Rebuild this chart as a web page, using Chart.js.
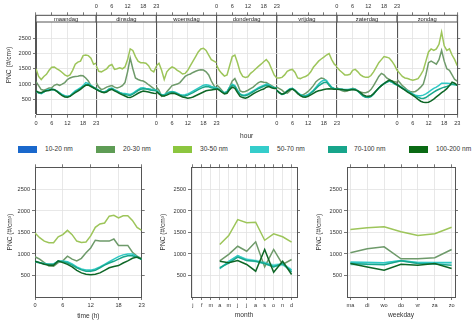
<!DOCTYPE html>
<html>
<head>
<meta charset="utf-8">
<script src="https://cdn.jsdelivr.net/npm/chart.js@4.4.1/dist/chart.umd.min.js"></script>
<style>
  html, body { margin: 0; padding: 0; background: #fff; }
  body { width: 474px; height: 323px; position: relative; overflow: hidden;
         font-family: "Liberation Sans", Arial, sans-serif; }
  .panel { position: absolute; }
  .legend-item { position: absolute; top: 145px; height: 8px; font-size: 6.6px; color: #333; line-height: 8px; white-space: nowrap; }
  .swatch { position: absolute; top: 146px; width: 19px; height: 7px; }
</style>
</head>
<body>
<div class="panel" style="left:0;top:0;width:474px;height:140px"><canvas id="weekChart"></canvas></div>

<div id="legend"></div>

<div class="panel" style="left:0;top:150px;width:155px;height:173px"><canvas id="hourChart"></canvas></div>
<div class="panel" style="left:155px;top:150px;width:155px;height:173px"><canvas id="monthChart"></canvas></div>
<div class="panel" style="left:310px;top:150px;width:164px;height:173px"><canvas id="weekdayChart"></canvas></div>

<script>
// ---- categories and tick labels ----
const days = ['maandag', 'dinsdag', 'woensdag', 'donderdag', 'vrijdag', 'zaterdag', 'zondag'];
const sizeBins = ['10-20 nm', '20-30 nm', '30-50 nm', '50-70 nm', '70-100 nm', '100-200 nm'];
const hourTicks = [0, 6, 12, 18, 23];
const yTicks = [500, 1000, 1500, 2000, 2500];
const monthLabels = ['j', 'f', 'm', 'a', 'm', 'j', 'j', 'a', 's', 'o', 'n', 'd'];
const weekdayLabels = ['ma', 'di', 'wo', 'do', 'vr', 'za', 'zo'];

// ---- hour-of-week means, 24 values per day (maandag .. zondag) ----
const pnc20_30Week = [
  1080, 950, 820, 800, 830, 870, 880, 960, 990, 960, 1000, 1050, 1150, 1200, 1230, 1250, 1260, 1280, 1270, 1200, 1100, 950, 880, 860,
  1050, 900, 820, 850, 900, 930, 950, 900, 870, 900, 950, 1050, 1400, 1850, 1500, 1200, 1150, 1120, 1100, 1050, 980, 920, 850, 780,
  900, 800, 600, 620, 750, 850, 950, 980, 1000, 1050, 1150, 1250, 1300, 1330, 1380, 1420, 1450, 1470, 1460, 1400, 1300, 1100, 950, 850,
  980, 900, 800, 700, 720, 900, 1100, 1180, 1000, 780, 740, 760, 800, 850, 900, 980, 1050, 1080, 1060, 1050, 1000, 950, 900, 870,
  900, 850, 800, 720, 700, 780, 860, 800, 680, 640, 650, 700, 760, 850, 950, 1080, 1150, 1200, 1180, 1100, 950, 880, 850, 850,
  880, 830, 780, 760, 770, 820, 860, 840, 780, 740, 720, 720, 750, 820, 950, 1100, 1250, 1350, 1300, 1200, 1150, 1100, 1080, 1060,
  1150, 1050, 950, 880, 800, 760, 740, 760, 820, 900, 1000, 1300, 1700, 1750, 1700, 1650, 1800, 2100, 1750, 1500, 1450, 1300, 1150, 1100
];
const pnc30_50Week = [
  1500, 1250, 1150, 1250, 1320, 1450, 1550, 1560, 1500, 1450, 1380, 1300, 1260, 1300, 1450, 1650, 1720, 1750, 1930, 1950, 1930, 1850, 1650, 1680,
  1600, 1420, 1400, 1450, 1500, 1600, 1640, 1480, 1500, 1530, 1500, 1560, 1800, 2150, 2100, 1900, 1750, 1700, 1700, 1680, 1600, 1450, 1400, 1580,
  1600, 1680, 1450, 1150, 1400, 1500, 1560, 1520, 1450, 1400, 1330, 1350, 1450, 1600, 1750, 1900, 2050, 2150, 2170, 2100, 1950, 1800, 1750, 1700,
  1620, 1450, 1350, 1260, 1300, 1600, 1900, 1950, 1700, 1400, 1250, 1220, 1240, 1350, 1420, 1500, 1580, 1650, 1730, 1800, 1700, 1500, 1300, 1200,
  1200, 1200, 1220, 1300, 1420, 1460, 1480, 1380, 1200, 1180, 1220, 1250, 1300, 1400, 1550, 1650, 1750, 1820, 1880, 1950, 2000, 1800, 1650, 1580,
  1550, 1450, 1380, 1300, 1300, 1320, 1450, 1480, 1400, 1300, 1250, 1220, 1220, 1280, 1400, 1550, 1700, 1800, 1900, 1880, 1850, 1750, 1620, 1450,
  1450, 1350, 1250, 1200, 1180, 1150, 1130, 1150, 1180, 1300, 1450, 1750, 2050, 2150, 2100, 2150, 2300, 2700, 2250, 2100, 2150, 1950, 1800, 1600
];
const pnc50_70Week = [
  780, 720, 690, 740, 800, 820, 830, 820, 780, 720, 660, 620, 600, 620, 700, 780, 830, 880, 950, 1050, 1020, 960, 900, 850,
  850, 800, 760, 740, 780, 850, 870, 820, 780, 730, 700, 690, 680, 660, 700, 760, 820, 870, 880, 860, 850, 830, 820, 800,
  800, 720, 650, 650, 700, 740, 760, 740, 700, 660, 640, 650, 680, 720, 770, 820, 870, 920, 960, 980, 960, 920, 900, 880,
  880, 830, 760, 720, 760, 900, 1000, 950, 800, 680, 640, 650, 680, 730, 780, 830, 880, 920, 960, 1000, 980, 920, 880, 880,
  800, 720, 660, 700, 780, 850, 860, 800, 720, 660, 620, 620, 660, 720, 800, 900, 1000, 1080, 1130, 1120, 1000, 900, 860, 850,
  850, 840, 830, 820, 820, 830, 840, 830, 780, 700, 620, 580, 570, 600, 680, 780, 880, 960, 1020, 1070, 1100, 1060, 1000, 960,
  1000, 940, 880, 830, 780, 730, 680, 640, 620, 620, 640, 680, 740, 800, 860, 900, 960, 1030, 1030, 1030, 1020, 1000, 980, 970
];
const pnc70_100Week = [
  760, 710, 700, 750, 790, 800, 820, 810, 760, 700, 640, 600, 590, 610, 680, 750, 800, 850, 920, 980, 990, 940, 880, 840,
  830, 790, 760, 740, 770, 830, 850, 800, 760, 710, 680, 660, 640, 630, 670, 730, 790, 830, 850, 840, 820, 800, 790, 780,
  780, 700, 640, 630, 680, 720, 740, 720, 680, 640, 610, 610, 640, 680, 720, 770, 820, 860, 900, 920, 910, 880, 860, 850,
  860, 820, 750, 700, 740, 870, 960, 920, 780, 660, 620, 620, 650, 700, 750, 800, 850, 890, 930, 960, 950, 900, 870, 870,
  790, 710, 660, 690, 770, 830, 840, 790, 710, 640, 600, 600, 630, 700, 770, 860, 940, 1000, 1050, 1060, 980, 880, 850, 840,
  840, 830, 820, 810, 810, 820, 830, 820, 770, 690, 610, 570, 560, 590, 670, 770, 870, 950, 1010, 1060, 1100, 1080, 1020, 980,
  980, 920, 860, 810, 760, 710, 660, 610, 570, 540, 530, 560, 620, 680, 740, 790, 830, 870, 900, 920, 960, 990, 990, 980
];
const pnc100_200Week = [
  780, 730, 720, 760, 780, 790, 830, 820, 760, 690, 620, 580, 570, 600, 660, 720, 770, 830, 900, 960, 970, 920, 880, 830,
  830, 780, 740, 720, 740, 800, 830, 780, 740, 690, 650, 610, 570, 560, 600, 650, 700, 740, 770, 760, 740, 720, 700, 690,
  760, 680, 620, 610, 640, 680, 700, 690, 660, 620, 580, 560, 540, 550, 580, 620, 660, 700, 740, 780, 800, 810, 820, 830,
  850, 800, 740, 680, 700, 820, 900, 860, 720, 600, 560, 540, 570, 620, 680, 730, 770, 810, 840, 900, 920, 880, 860, 860,
  800, 720, 670, 700, 760, 820, 840, 780, 700, 620, 580, 570, 600, 650, 700, 750, 780, 800, 820, 840, 850, 840, 830, 830,
  830, 820, 820, 810, 800, 810, 820, 810, 780, 720, 650, 610, 600, 620, 690, 780, 870, 950, 1020, 1080, 1130, 1100, 1030, 980,
  980, 920, 860, 800, 740, 690, 630, 570, 500, 440, 410, 400, 410, 450, 510, 580, 650, 720, 780, 850, 950, 1060, 1030, 960
];

// ---- hour-of-day means ----
const pnc20_30Hour = [935, 880, 800, 720, 716, 800, 840, 950, 880, 840, 900, 1030, 1140, 1320, 1300, 1300, 1300, 1350, 1200, 1200, 1200, 1040, 950, 890];
const pnc30_50Hour = [1490, 1380, 1300, 1260, 1260, 1400, 1450, 1550, 1450, 1300, 1270, 1280, 1420, 1620, 1700, 1720, 1880, 1900, 1840, 1890, 1890, 1780, 1620, 1550];
const pnc50_70Hour = [830, 800, 780, 760, 770, 840, 840, 820, 770, 700, 650, 630, 625, 650, 700, 760, 820, 880, 940, 980, 1000, 1000, 940, 880];
const pnc70_100Hour = [820, 790, 770, 760, 760, 830, 820, 790, 740, 680, 630, 600, 600, 620, 680, 740, 790, 830, 880, 930, 960, 960, 920, 870];
const pnc100_200Hour = [830, 800, 760, 740, 740, 840, 800, 760, 700, 620, 560, 530, 520, 530, 560, 620, 680, 710, 730, 790, 840, 900, 930, 880];

// ---- monthly means (no data january - march) ----
const pnc20_30Month = [null, null, null, 840, 990, 1180, 1065, 1283, 700, 1105, 756, 872];
const pnc30_50Month = [null, null, null, 1220, 1430, 1800, 1725, 1740, 1320, 1470, 1400, 1275];
const pnc50_70Month = [null, null, null, 656, 830, 965, 870, 840, 790, 730, 760, 623];
const pnc50_70MonthLow = [null, null, null, 640, 800, 920, 830, 800, 750, 690, 720, 590];
const pnc50_70MonthHigh = [null, null, null, 680, 850, 975, 900, 870, 830, 770, 800, 660];
const pnc70_100Month = [null, null, null, 680, 790, 930, 850, 830, 780, 700, 780, 580];
const pnc100_200Month = [null, null, null, 833, 795, 849, 756, 600, 1105, 577, 833, 523];

// ---- weekday means ----
const pnc20_30Weekday = [1028, 1121, 1167, 888, 888, 912, 1105];
const pnc30_50Weekday = [1570, 1609, 1632, 1516, 1430, 1470, 1623];
const pnc50_70Weekday = [810, 800, 795, 850, 800, 800, 800];
const pnc50_70WeekdayLow = [730, 740, 750, 820, 770, 770, 765];
const pnc50_70WeekdayHigh = [835, 825, 815, 860, 820, 815, 815];
const pnc70_100Weekday = [780, 760, 750, 840, 780, 770, 740];
const pnc100_200Weekday = [780, 700, 623, 760, 740, 780, 663];

// ---- styling ----
const swatchColors = ['#1a68cc', '#5e9c55', '#8cc63f', '#35cdcb', '#17a58b', '#0a6a14'];
const lineColors = {
  '20-30 nm': '#6e9a6a',
  '30-50 nm': '#9dc55a',
  '50-70 nm': '#2fc8c4',
  '70-100 nm': '#18a78c',
  '100-200 nm': '#0e6626'
};
const GRID = '#e2e2e2';
const AXIS = '#555';
const TEXT = '#333';
const FONT = '"Liberation Sans", Arial, sans-serif';
const tickFont = { family: FONT, size: 5.6 };
const titleFont = { family: FONT, size: 6.6 };
const LINE_W = 1.5;

// ---- legend ----
const legendSwatchX = [18, 96, 173, 250, 328, 409];
const legendTextX = [45, 123, 200, 277, 354, 436];
const legendEl = document.getElementById('legend');
sizeBins.forEach((name, i) => {
  const sw = document.createElement('div');
  sw.className = 'swatch';
  sw.style.left = legendSwatchX[i] + 'px';
  sw.style.background = swatchColors[i];
  legendEl.appendChild(sw);
  const tx = document.createElement('div');
  tx.className = 'legend-item';
  tx.style.left = legendTextX[i] + 'px';
  tx.textContent = name;
  legendEl.appendChild(tx);
});

// ---- helpers ----
function fixedTicks(values) {
  return (scale) => { scale.ticks = values.map(v => ({ value: v })); };
}
function fixWidth(w) { return (scale) => { scale.width = w; }; }
function fixHeight(h) { return (scale) => { scale.height = h; }; }

function lineDataset(label, data, extra) {
  return Object.assign({
    label: label,
    data: data,
    borderColor: lineColors[label],
    backgroundColor: lineColors[label],
    borderWidth: LINE_W,
    pointRadius: 0,
    tension: 0,
    fill: false,
    spanGaps: false
  }, extra || {});
}

// one point per hour of the week, panels laid side by side (each 0..23)
function weekPoints(values) {
  const pts = [];
  for (let d = 0; d < days.length; d++) {
    if (d > 0) pts.push({ x: d * 23, y: null });
    for (let h = 0; h < 24; h++) pts.push({ x: d * 23 + h, y: values[d * 24 + h] });
  }
  return pts;
}
function indexPoints(values) {
  return values.map((v, i) => ({ x: i, y: v }));
}

function boxScales(cfg) {
  const ySpec = (position, showLabels, width) => ({
    type: 'linear', position: position, min: 0, max: cfg.yMax,
    afterBuildTicks: fixedTicks(yTicks),
    afterFit: fixWidth(width),
    grid: { display: true, drawOnChartArea: position === 'left', color: GRID, lineWidth: 0.8,
            tickLength: 3, tickColor: AXIS, tickWidth: 0.8 },
    border: { display: true, color: AXIS, width: 1 },
    ticks: { display: showLabels, font: tickFont, color: TEXT, padding: 2, callback: (v) => String(v) },
    title: position === 'left'
      ? { display: true, text: 'PNC (#/cm³)', font: titleFont, color: TEXT, padding: { top: cfg.yTitlePad, bottom: 0 } }
      : { display: false }
  });
  const xSpec = (position, labelFn, height) => ({
    type: 'linear', position: position, min: cfg.xMin, max: cfg.xMax,
    afterBuildTicks: fixedTicks(cfg.xTicks),
    afterFit: fixHeight(height),
    grid: { display: true, drawOnChartArea: position === 'bottom', color: cfg.gridColor || GRID,
            lineWidth: cfg.gridWidth || 0.8, tickLength: 3, tickColor: AXIS, tickWidth: 0.8 },
    border: { display: true, color: AXIS, width: 1 },
    ticks: labelFn
      ? { display: true, autoSkip: false, maxRotation: 0, font: tickFont, color: TEXT, padding: 2, callback: labelFn }
      : { display: false },
    title: position === 'bottom' && cfg.xTitle
      ? { display: true, text: cfg.xTitle, font: titleFont, color: TEXT, padding: { top: 0, bottom: cfg.xTitlePad } }
      : { display: false }
  });
  return {
    x: xSpec('bottom', cfg.bottomLabel, cfg.bottomH),
    x2: xSpec('top', cfg.topLabel, cfg.topH),
    y: ySpec('left', true, cfg.leftW),
    y2: ySpec('right', false, cfg.rightW)
  };
}

const baseOptions = {
  responsive: true,
  maintainAspectRatio: false,
  animation: false,
  devicePixelRatio: 1,
  layout: { padding: 0 },
  plugins: { legend: { display: false }, tooltip: { enabled: false } },
  parsing: true
};

// ---- hour-of-week chart with day strips ----
const weekTickValues = [];
for (let d = 0; d < days.length; d++) {
  [0, 6, 12, 18].forEach(h => weekTickValues.push(d * 23 + h));
}
weekTickValues.push(days.length * 23);

function weekLabel(value, side) {
  // side 0: panels labelled at the bottom (even), side 1: at the top (odd)
  const d = Math.floor(value / 23);
  const h = value - d * 23;
  if (h === 0) {
    if (d < days.length && d % 2 === side) return '0';
    if (d - 1 >= 0 && (d - 1) % 2 === side) return '23';
    return '';
  }
  return d % 2 === side ? String(h) : '';
}

const stripPlugin = {
  id: 'dayStrips',
  beforeDatasetsDraw(chart) {
    const { ctx, chartArea } = chart;
    const xs = chart.scales.x;
    const top = chartArea.top;
    const h = 6.7;
    ctx.save();
    ctx.fillStyle = '#fff';
    ctx.fillRect(chartArea.left, top, chartArea.right - chartArea.left, h);
    ctx.strokeStyle = AXIS;
    ctx.lineWidth = 1;
    ctx.font = '5.8px ' + FONT;
    ctx.textAlign = 'center';
    ctx.textBaseline = 'middle';
    days.forEach((name, d) => {
      const x0 = xs.getPixelForValue(d * 23);
      const x1 = xs.getPixelForValue(d * 23 + 23);
      ctx.strokeRect(x0, top, x1 - x0, h);
      ctx.fillStyle = '#222';
      ctx.fillText(name, (x0 + x1) / 2, top + h / 2 + 0.3);
    });
    ctx.restore();
  }
};

const weekSeries = [
  ['100-200 nm', pnc100_200Week],
  ['70-100 nm', pnc70_100Week],
  ['50-70 nm', pnc50_70Week],
  ['30-50 nm', pnc30_50Week],
  ['20-30 nm', pnc20_30Week]
];

new Chart(document.getElementById('weekChart'), {
  type: 'line',
  data: { datasets: weekSeries.map(([name, vals]) => lineDataset(name, weekPoints(vals))) },
  options: Object.assign({}, baseOptions, {
    scales: boxScales({
      yMax: 3248, xMin: 0, xMax: days.length * 23, xTicks: weekTickValues,
      bottomLabel: (v) => weekLabel(v, 0),
      topLabel: (v) => weekLabel(v, 1),
      gridColor: (c) => (c.tick && c.tick.value % 23 === 0) ? AXIS : GRID,
      gridWidth: (c) => (c.tick && c.tick.value % 23 === 0) ? 1.1 : 0.8,
      leftW: 36, rightW: 16.7, topH: 15.3, bottomH: 25.3,
      xTitle: 'hour', xTitlePad: 0, yTitlePad: 5.5
    })
  }),
  plugins: [stripPlugin]
});

// ---- hour of day ----
new Chart(document.getElementById('hourChart'), {
  type: 'line',
  data: {
    datasets: [
      lineDataset('100-200 nm', indexPoints(pnc100_200Hour)),
      lineDataset('70-100 nm', indexPoints(pnc70_100Hour)),
      lineDataset('50-70 nm', indexPoints(pnc50_70Hour)),
      lineDataset('30-50 nm', indexPoints(pnc30_50Hour)),
      lineDataset('20-30 nm', indexPoints(pnc20_30Hour))
    ]
  },
  options: Object.assign({}, baseOptions, {
    scales: boxScales({
      yMax: 3016, xMin: 0, xMax: 23, xTicks: hourTicks,
      bottomLabel: (v) => String(v), topLabel: null,
      leftW: 35, rightW: 13.3, topH: 17.3, bottomH: 26,
      xTitle: 'time (h)', xTitlePad: 2.5, yTitlePad: 6
    })
  })
});

// ---- month ----
const bandFill = 'rgba(47, 200, 196, 0.45)';
new Chart(document.getElementById('monthChart'), {
  type: 'line',
  data: {
    datasets: [
      lineDataset('100-200 nm', indexPoints(pnc100_200Month)),
      lineDataset('70-100 nm', indexPoints(pnc70_100Month)),
      lineDataset('50-70 nm', indexPoints(pnc50_70Month)),
      lineDataset('30-50 nm', indexPoints(pnc30_50Month)),
      lineDataset('20-30 nm', indexPoints(pnc20_30Month)),
      lineDataset('50-70 nm', indexPoints(pnc50_70MonthHigh), { borderWidth: 0, borderColor: 'rgba(0,0,0,0)', fill: '+1', backgroundColor: bandFill }),
      lineDataset('50-70 nm', indexPoints(pnc50_70MonthLow), { borderWidth: 0, borderColor: 'rgba(0,0,0,0)' })
    ]
  },
  options: Object.assign({}, baseOptions, {
    scales: boxScales({
      yMax: 3016, xMin: -0.2, xMax: 11.6, xTicks: monthLabels.map((_, i) => i),
      bottomLabel: (v) => monthLabels[v], topLabel: null,
      leftW: 36, rightW: 13, topH: 17.3, bottomH: 26,
      xTitle: 'month', xTitlePad: 3.5, yTitlePad: 4
    })
  })
});

// ---- weekday ----
new Chart(document.getElementById('weekdayChart'), {
  type: 'line',
  data: {
    datasets: [
      lineDataset('100-200 nm', indexPoints(pnc100_200Weekday)),
      lineDataset('70-100 nm', indexPoints(pnc70_100Weekday)),
      lineDataset('50-70 nm', indexPoints(pnc50_70Weekday)),
      lineDataset('30-50 nm', indexPoints(pnc30_50Weekday)),
      lineDataset('20-30 nm', indexPoints(pnc20_30Weekday)),
      lineDataset('50-70 nm', indexPoints(pnc50_70WeekdayHigh), { borderWidth: 0, borderColor: 'rgba(0,0,0,0)', fill: '+1', backgroundColor: bandFill }),
      lineDataset('50-70 nm', indexPoints(pnc50_70WeekdayLow), { borderWidth: 0, borderColor: 'rgba(0,0,0,0)' })
    ]
  },
  options: Object.assign({}, baseOptions, {
    scales: boxScales({
      yMax: 3016, xMin: -0.2, xMax: 6.2, xTicks: weekdayLabels.map((_, i) => i),
      bottomLabel: (v) => weekdayLabels[v], topLabel: null,
      leftW: 37, rightW: 19, topH: 17.3, bottomH: 26,
      xTitle: 'weekday', xTitlePad: 3.5, yTitlePad: 5
    })
  })
});
</script>
</body>
</html>
